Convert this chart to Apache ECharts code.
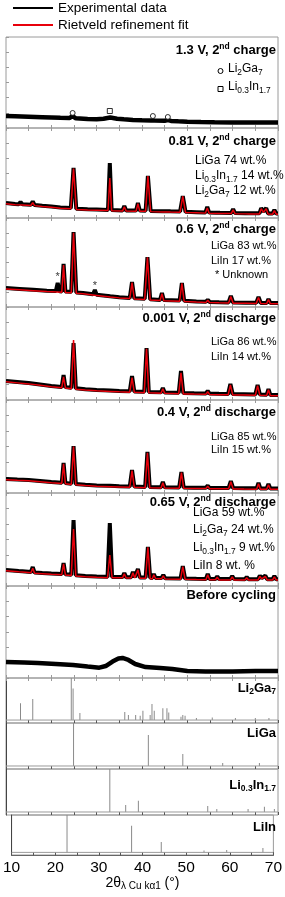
<!DOCTYPE html>
<html><head><meta charset="utf-8">
<script src="https://cdn.jsdelivr.net/npm/echarts@6/dist/echarts.min.js"></script>
<style>html,body{margin:0;padding:0;background:#fff}#c{width:285px;height:897px}</style>
</head><body><div id="c"></div>
<script>
// ---------- data (2θ in degrees, intensity in arbitrary units) ----------
const xTickLabels = [10, 20, 30, 40, 50, 60, 70];

const exp_1_3V = [[10,15.8],[12,15.4],[15,14.8],[18,14.2],[20,13.8],[22,13.4],[24.0,13.2],[24.7,15.6],[25.4,12.8],[28,11.9],[30,11.6],[31.5,12.2],[33,13.8],[34.5,12.2],[36,11.4],[38,10.6],[40,10.2],[42.0,10.0],[42.4,11.4],[42.8,9.8],[45.0,9.6],[45.7,10.4],[46.4,9.3],[48,8.8],[50,8.2],[53,7.8],[56,7.5],[60,7.3],[65,7.3],[70,7.3]];
const mark_Li2Ga7_1_3V = [[24.7,19.8],[42.4,15.8],[45.7,14.5]];
const mark_LiIn_1_3V = [[32.9,22.4]];

const exp_0_81V = [[10,20],[12,18.7],[12.8,18.4],[13.2,21.3],[13.6,18.2],[15.5,17.6],[15.9,22],[16.3,17.4],[18,16.3],[20,15.3],[22,14],[24.3,13.3],[24.9,66.7],[25.5,12.2],[28,11.6],[30,11.3],[32.5,10.8],[32.9,73.3],[33.3,10.7],[35.7,10.1],[36.1,16],[36.5,10.1],[38.7,10],[39.1,20],[39.5,10],[40.8,9.8],[41.3,56],[41.9,9.4],[44.7,9],[45.1,10.7],[45.5,9],[45.9,10.7],[46.3,8.9],[48.4,8.7],[49.0,29.3],[49.6,8.2],[52,7.8],[54.0,7.4],[54.4,14.7],[54.8,7.3],[56.4,7.0],[56.8,9.3],[57.2,6.9],[59.7,6.8],[60.1,12],[60.5,6.7],[62.8,6.4],[63.2,8.7],[63.6,6.3],[65.9,6.2],[66.3,13.3],[66.8,8.5],[67.4,13.3],[67.8,6.1],[68.8,6.0],[69.2,10.7],[69.6,6.0],[70,6.0]];
const fit_0_81V = [[10,19],[12,17.8],[12.8,17.5],[13.2,19.5],[13.6,17.3],[15.5,16.7],[15.9,20.5],[16.3,16.5],[18,15.4],[20,14.4],[22,13.1],[24.3,12.4],[24.9,66],[25.5,11.3],[28,10.7],[30,10.4],[32.5,9.9],[32.9,53.3],[33.3,9.8],[35.7,9.2],[36.1,15],[36.5,9.2],[38.7,9.1],[39.1,19],[39.5,9.1],[40.8,8.9],[41.3,56],[41.9,8.5],[44.7,8.1],[45.1,9.5],[45.5,8.1],[45.9,9.5],[46.3,8],[48.4,7.8],[49.0,29],[49.6,7.3],[52,6.9],[54.0,6.5],[54.4,13.5],[54.8,6.4],[56.4,6.1],[56.8,8.3],[57.2,6],[59.7,5.9],[60.1,11],[60.5,5.8],[62.8,5.5],[63.2,7.7],[63.6,5.4],[65.9,5.3],[66.3,12.5],[66.8,7.6],[67.4,12.5],[67.8,5.2],[68.8,5.1],[69.2,9.8],[69.6,5.1],[70,5.1]];

const exp_0_6V = [[10,25.6],[13,24.4],[16,23.2],[19,22],[21.0,21.5],[21.4,32.4],[21.8,21.2],[22.3,21],[22.7,58],[23.1,20.9],[24.4,20.4],[24.9,101],[25.5,19.6],[27,18.9],[29.2,17.2],[29.6,22.9],[30.0,16.6],[33,14.4],[35,13.2],[37.3,12.2],[37.8,33.7],[38.3,11.7],[40.6,11],[41.2,67.4],[41.8,10.3],[44.0,9.6],[44.4,18.9],[44.8,9.4],[48.3,8.8],[48.8,32.4],[49.3,8.3],[52,7.5],[54.1,7],[54.5,9.8],[54.9,6.9],[57,6.5],[59.1,6.2],[59.6,14.8],[60.1,6.1],[63,5.8],[65.2,5.6],[65.7,13.5],[66.2,5.5],[67.5,5.4],[67.9,10.8],[68.3,5.4],[70,5.4]];
const fit_0_6V = [[10,24.4],[13,23.2],[16,22],[19,20.8],[22.3,19.8],[22.7,56.6],[23.1,19.7],[24.4,19.2],[24.9,100],[25.5,18.5],[27,17.8],[30,15.6],[33,13.4],[35,12.3],[37.3,11.3],[37.8,33],[38.3,10.8],[40.6,10.1],[41.2,67],[41.8,9.4],[44.0,8.7],[44.4,18],[44.8,8.5],[48.3,7.9],[48.8,32],[49.3,7.4],[52,6.6],[54.1,6.1],[54.5,9],[54.9,6],[57,5.6],[59.1,5.3],[59.6,14],[60.1,5.2],[63,4.9],[65.2,4.7],[65.7,12.8],[66.2,4.6],[67.5,4.5],[67.9,10],[68.3,4.5],[70,4.5]];
const star_0_6V = [[21.4,40],[29.6,29]];

const exp_0_001V = [[10,24.5],[12.5,23.2],[15,21.9],[17.5,20],[20,18.1],[22.3,16.9],[22.7,32.3],[23.1,16.6],[24.4,15.7],[24.9,73.5],[25.4,15.1],[27.5,14],[30,12.9],[33,12.2],[35,11.6],[37.3,11.2],[37.8,31],[38.3,11],[40.5,10.6],[41.0,67.1],[41.5,10.3],[44.2,9.9],[44.6,15.5],[45.0,9.7],[48.1,9.2],[48.6,37.4],[49.1,9],[51.5,8.7],[54.1,8.4],[54.5,11.6],[54.9,8.3],[57,8],[59.0,7.8],[59.5,20.6],[60.0,7.7],[62.5,7.4],[65.0,7.1],[65.5,19.4],[66.0,7.1],[67.5,6.8],[67.9,14.2],[68.3,6.6],[70,6.5]];
const fit_0_001V = [[10,23.4],[12.5,22.1],[15,20.8],[17.5,18.9],[20,17],[22.3,15.8],[22.7,30],[23.1,15.5],[24.4,14.6],[24.9,77.4],[25.4,14],[27.5,12.9],[30,11.8],[33,11.1],[35,10.5],[37.3,10.1],[37.8,29],[38.3,9.9],[40.5,9.5],[41.0,66],[41.5,9.2],[44.2,8.8],[44.6,14.5],[45.0,8.6],[48.1,8.1],[48.6,35],[49.1,7.9],[51.5,7.6],[54.1,7.3],[54.5,10.6],[54.9,7.2],[57,6.9],[59.0,6.7],[59.5,19.5],[60.0,6.6],[62.5,6.3],[65.0,6],[65.5,18.5],[66.0,6],[67.5,5.7],[67.9,13.2],[68.3,5.5],[70,5.4]];

const exp_0_4V = [[10,18.1],[12.5,17.4],[15,16.8],[17.5,15.5],[20,14.2],[22.3,13.2],[22.7,38.7],[23.1,12.9],[24.4,12],[24.9,60.6],[25.4,11.6],[27.5,10.6],[30,9.8],[33,9.2],[35,8.8],[37.3,8.4],[37.8,29.7],[38.3,8.3],[40.7,7.9],[41.2,52.9],[41.7,7.7],[44.2,7.5],[44.6,14.2],[45.0,7.4],[48.2,7.2],[48.7,27.1],[49.2,7.1],[51.5,6.9],[54.1,6.7],[54.5,9.5],[54.9,6.6],[57,6.5],[59.1,6.4],[59.6,15.5],[60.1,6.3],[62.5,6.1],[65.3,6],[65.7,12.9],[66.1,5.9],[67.5,5.8],[67.9,11.6],[68.3,5.8],[70,5.8]];
const fit_0_4V = [[10,17.1],[12.5,16.4],[15,15.8],[17.5,14.5],[20,13.2],[22.3,12.2],[22.7,37.5],[23.1,11.9],[24.4,11],[24.9,60],[25.4,10.6],[27.5,9.6],[30,8.8],[33,8.2],[35,7.8],[37.3,7.4],[37.8,28.8],[38.3,7.3],[40.7,6.9],[41.2,52],[41.7,6.7],[44.2,6.5],[44.6,13.3],[45.0,6.4],[48.2,6.2],[48.7,26.4],[49.2,6.1],[51.5,5.9],[54.1,5.7],[54.5,8.6],[54.9,5.6],[57,5.5],[59.1,5.4],[59.6,14.6],[60.1,5.3],[62.5,5.1],[65.3,5],[65.7,12],[66.1,4.9],[67.5,4.8],[67.9,10.7],[68.3,4.8],[70,4.8]];

const exp_0_65V = [[10,20.6],[12.8,19.4],[13.2,21.9],[13.6,19.1],[15.5,18.1],[15.9,24.5],[16.3,17.4],[18,16.8],[20,16.1],[22.3,15.5],[22.7,29.7],[23.1,15.2],[24.4,14.4],[24.9,85.2],[25.4,14],[27.5,13],[30,12.3],[32.4,11.8],[32.9,81.3],[33.4,11.6],[35.7,11.5],[36.1,16.8],[36.5,11.4],[37.6,11.4],[38.0,18.1],[38.4,11.3],[38.7,11.3],[39.1,21.9],[39.5,11.1],[40.8,11],[41.3,50.3],[41.8,10.5],[42.3,10.4],[42.6,15.5],[43.0,10.3],[44.3,10.2],[44.7,14.2],[45.1,10],[48.5,9.7],[49.0,25.8],[49.5,9.6],[52,9.3],[54.1,9.1],[54.5,15.5],[54.9,9],[56.2,9],[56.6,12.3],[57.0,8.9],[59.5,8.9],[59.9,12.9],[60.3,8.9],[62.7,8.8],[63.1,11.6],[63.5,8.8],[65.6,8.8],[66.0,13.5],[66.4,10.2],[66.8,10.2],[67.2,13.5],[67.6,8.8],[68.8,8.8],[69.2,12.9],[69.6,8.8],[70,8.8]];
const fit_0_65V = [[10,19.6],[12.8,18.4],[13.2,20.5],[13.6,18.1],[15.5,17.1],[15.9,23],[16.3,16.4],[18,15.8],[20,15.1],[22.3,14.5],[22.7,28.5],[23.1,14.2],[24.4,13.4],[24.9,73.5],[25.4,13],[27.5,12],[30,11.3],[32.4,10.8],[32.9,40],[33.4,10.6],[35.7,10.5],[36.1,15.8],[36.5,10.4],[37.6,10.4],[38.0,17],[38.4,10.3],[38.7,10.3],[39.1,20.8],[39.5,10.1],[40.8,10],[41.3,50],[41.8,9.5],[42.3,9.4],[42.6,14.5],[43.0,9.3],[44.3,9.2],[44.7,13.2],[45.1,9],[48.5,8.7],[49.0,25],[49.5,8.6],[52,8.3],[54.1,8.1],[54.5,14.5],[54.9,8],[56.2,8],[56.6,11.3],[57.0,7.9],[59.5,7.9],[59.9,11.9],[60.3,7.9],[62.7,7.8],[63.1,10.6],[63.5,7.8],[65.6,7.8],[66.0,12.5],[66.4,9.2],[66.8,9.2],[67.2,12.5],[67.6,7.8],[68.8,7.8],[69.2,11.9],[69.6,7.8],[70,7.8]];

const exp_before = [[10,20.9],[14,20.2],[17,19.6],[21,18.3],[24.8,17],[28,15],[30.6,13.5],[32,15.6],[33.5,21.5],[34.8,25.4],[35.7,26.1],[37,23.5],[38.5,18.3],[40.8,14.3],[44,13],[46.7,11.7],[50,9.1],[54,8.5],[60,8.5],[65,9],[70,9.1]];

const ref_Li2Ga7 = [[13.2,40],[15.9,50],[24.4,100],[24.8,75],[26.3,17],[36.2,19],[37.0,12],[38.6,12],[39.6,10],[40.2,22],[41.8,12],[42.2,38],[42.7,22],[44.6,28],[45.5,28],[45.9,18],[48.6,8],[49.0,12],[49.5,10],[52,5],[55.5,6],[60.6,5],[65,5],[68,5]];
const ref_LiGa = [[24.9,100],[41.4,72],[49.0,28],[57.8,7],[65.9,7]];
const ref_Li03In17 = [[32.9,100],[36.4,16],[39.2,26],[54.5,14],[56.5,7],[63.4,7],[67.0,12],[69.2,7]];
const ref_LiIn = [[22.7,100],[37.5,71],[44.3,28],[54.1,5],[59.3,6.5],[67.6,12]];
const refBaseline = [[10,0],[70,0]];

// ---------- layout ----------
const FONT = '"Liberation Sans", Arial, Helvetica, sans-serif';
const panels = [
  {top:37, bottom:128, exp:exp_1_3V},
  {top:128, bottom:218, exp:exp_0_81V, fit:fit_0_81V},
  {top:218, bottom:307, exp:exp_0_6V, fit:fit_0_6V},
  {top:307, bottom:400, exp:exp_0_001V, fit:fit_0_001V},
  {top:400, bottom:493, exp:exp_0_4V, fit:fit_0_4V},
  {top:493, bottom:586, exp:exp_0_65V, fit:fit_0_65V},
  {top:586, bottom:678, exp:exp_before},
  {top:678, bottom:723, ref:ref_Li2Ga7},
  {top:723, bottom:769, ref:ref_LiGa},
  {top:769, bottom:815, ref:ref_Li03In17},
  {top:815, bottom:855, ref:ref_LiIn}
];

const grids=[], xAxes=[], yAxes=[], series=[];
const last = panels.length-1;
panels.forEach((p,i)=>{
  const isRef = !!p.ref;
  const tickCol = isRef ? '#555' : '#9a9a9a';
  grids.push({left:6, width:272, top:p.top, height:p.bottom-p.top, show:true, borderColor:'#9a9a9a', borderWidth:1, backgroundColor:'rgba(0,0,0,0)'});
  xAxes.push({gridIndex:i, type:'value', min:10, max:70, interval:5, position:'bottom',
    axisLine:{show:i===last, onZero:false, lineStyle:{color:'#666'}},
    axisTick:{show:true, inside:true, length:3, lineStyle:{color:i===last?'#333':tickCol}},
    axisLabel:{show:i===last, color:'#000', fontSize:15.5, fontFamily:FONT, margin:5,
      formatter:v=> xTickLabels.indexOf(v)>=0 ? String(v) : ''},
    splitLine:{show:false}});
  xAxes.push({gridIndex:i, type:'value', min:10, max:70, interval:5, position:'top',
    axisLine:{show:false}, axisTick:{show:true, inside:true, length:3, lineStyle:{color:tickCol}},
    axisLabel:{show:false}, splitLine:{show:false}});
  if (isRef) {
    yAxes.push({gridIndex:i, type:'value', min:-7, max:100, axisLine:{show:true, lineStyle:{color:'#444'}},
      axisTick:{show:false}, axisLabel:{show:false}, splitLine:{show:false}});
    series.push({type:'line', xAxisIndex:2*i, yAxisIndex:i, data:refBaseline, symbol:'none',
      lineStyle:{color:'#9a9a9a', width:1}, silent:true});
    series.push({type:'bar', xAxisIndex:2*i, yAxisIndex:i, data:p.ref, barWidth:1,
      itemStyle:{color:'#8a8a8a'}, silent:true});
  } else {
    yAxes.push({gridIndex:i, type:'value', min:0, max:120, interval:20,
      axisLine:{show:false}, axisTick:{show:true, inside:true, length:3, lineStyle:{color:'#9a9a9a'}},
      axisLabel:{show:false}, splitLine:{show:false}});
    series.push({name:'Experimental data', type:'line', xAxisIndex:2*i, yAxisIndex:i, data:p.exp,
      symbol:'none', lineStyle:{color:'#000', width:p.fit?4:4.5}, itemStyle:{color:'#000'}, z:2, silent:true});
    if (p.fit) series.push({name:'Rietveld refinement fit', type:'line', xAxisIndex:2*i, yAxisIndex:i, data:p.fit,
      symbol:'none', lineStyle:{color:'#e8000b', width:1.5}, itemStyle:{color:'#e8000b'}, z:3, silent:true});
  }
});
// phase markers in 1.3 V panel
series.push({type:'scatter', xAxisIndex:0, yAxisIndex:0, data:mark_Li2Ga7_1_3V, symbol:'circle', symbolSize:5,
  itemStyle:{color:'#fff', borderColor:'#000', borderWidth:1}, z:5, silent:true});
series.push({type:'scatter', xAxisIndex:0, yAxisIndex:0, data:mark_LiIn_1_3V, symbol:'rect', symbolSize:5,
  itemStyle:{color:'#fff', borderColor:'#000', borderWidth:1}, z:5, silent:true});
// unknown peaks in 0.6 V panel
series.push({type:'scatter', xAxisIndex:4, yAxisIndex:2, data:star_0_6V, symbolSize:0,
  label:{show:true, position:'inside', formatter:'*', fontSize:11, fontFamily:FONT, color:'#000'}, z:5, silent:true});

// ---------- text ----------
const rb = (fs)=>({fontSize:fs, fontFamily:FONT, color:'#000', lineHeight:16});
function title(y, text){
  return {type:'text', right:9, top:y-8, style:{text:text, align:'right', fontFamily:FONT,
    rich:{b:Object.assign(rb(13),{fontWeight:'bold'}), sup:{fontSize:8.5, fontWeight:'bold', fontFamily:FONT, color:'#000', lineHeight:9, verticalAlign:'top'},
          sub:{fontSize:8.5, fontWeight:'bold', fontFamily:FONT, color:'#000', lineHeight:9, verticalAlign:'bottom'}}}};
}
function note(x, y, text, fs, lh){
  return {type:'text', left:x, top:y - lh/2, style:{text:text, fontFamily:FONT,
    rich:{n:{fontSize:fs, fontFamily:FONT, color:'#000', lineHeight:lh},
          sub:{fontSize:fs*0.7, fontFamily:FONT, color:'#000', lineHeight:lh*0.55, verticalAlign:'bottom'}}}};
}
const graphics = [
  title(50, '{b|1.3 V, 2}{sup|nd}{b| charge}'),
  title(141, '{b|0.81 V, 2}{sup|nd}{b| charge}'),
  title(229, '{b|0.6 V, 2}{sup|nd}{b| charge}'),
  title(318, '{b|0.001 V, 2}{sup|nd}{b| discharge}'),
  title(412, '{b|0.4 V, 2}{sup|nd}{b| discharge}'),
  title(502, '{b|0.65 V, 2}{sup|nd}{b| discharge}'),
  title(597, '{b|Before cycling}'),
  title(690, '{b|Li}{sub|2}{b|Ga}{sub|7}'),
  title(735, '{b|LiGa}'),
  title(787, '{b|Li}{sub|0.3}{b|In}{sub|1.7}'),
  title(829, '{b|LiIn}'),
  {type:'circle', shape:{cx:220.5, cy:71, r:2.5}, style:{fill:'#fff', stroke:'#000', lineWidth:1}},
  note(228, 71, '{n|Li}{sub|2}{n|Ga}{sub|7}', 12, 16),
  {type:'rect', shape:{x:218, y:86.5, width:5, height:5}, style:{fill:'#fff', stroke:'#000', lineWidth:1}},
  note(228, 89, '{n|Li}{sub|0.3}{n|In}{sub|1.7}', 12, 16),
  note(195, 163, '{n|LiGa 74 wt.%}', 12, 16),
  note(195, 178, '{n|Li}{sub|0.3}{n|In}{sub|1.7}{n| 14 wt.%}', 12, 16),
  note(195, 193, '{n|Li}{sub|2}{n|Ga}{sub|7}{n| 12 wt.%}', 12, 16),
  note(211, 247, '{n|LiGa 83 wt.%}', 11, 14),
  note(211, 262, '{n|LiIn 17 wt.%}', 11, 14),
  note(215, 276, '{n|* Unknown}', 11, 14),
  note(211, 343, '{n|LiGa 86 wt.%}', 11, 14),
  note(211, 358, '{n|LiIn 14 wt.%}', 11, 14),
  note(211, 438, '{n|LiGa 85 wt.%}', 11, 14),
  note(211, 451, '{n|LiIn 15 wt.%}', 11, 14),
  note(193, 515, '{n|LiGa 59 wt.%}', 12, 16),
  note(193, 532, '{n|Li}{sub|2}{n|Ga}{sub|7}{n| 24 wt.%}', 12, 16),
  note(193, 550, '{n|Li}{sub|0.3}{n|In}{sub|1.7}{n| 9 wt.%}', 12, 16),
  note(193, 568, '{n|LiIn 8 wt. %}', 12, 16),
  {type:'text', left:'center', top:876, style:{text:'{n|2θ}{sub|λ Cu kα1}{n| (°)}', fontFamily:FONT,
    rich:{n:{fontSize:14, fontFamily:FONT, color:'#000', lineHeight:17}, sub:{fontSize:10, fontFamily:FONT, color:'#000', lineHeight:10, verticalAlign:'bottom'}}}}
];

const chart = echarts.init(document.getElementById('c'), null, {renderer:'canvas'});
chart.setOption({
  animation:false,
  backgroundColor:'#fff',
  legend:{show:true, orient:'vertical', left:8, top:-4, itemWidth:40, itemHeight:2, itemGap:3, icon:'rect',
    data:['Experimental data','Rietveld refinement fit'],
    textStyle:{fontSize:13.5, fontFamily:FONT, color:'#000', padding:[0,0,0,0]}, selectedMode:false},
  grid:grids, xAxis:xAxes, yAxis:yAxes, series:series, graphic:graphics
});
</script></body></html>
